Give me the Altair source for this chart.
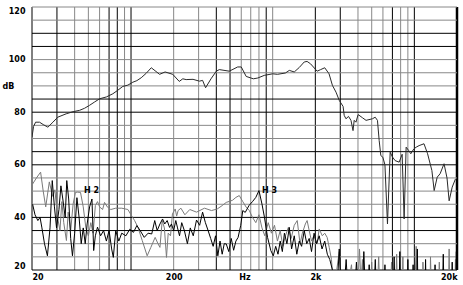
import altair as alt
import pandas as pd

# ---------------- data ----------------
main_freq = [20, 20.5, 21.2, 22.6, 24, 25.9, 28.1, 30.4, 34.9, 39, 43.3, 47, 50.9, 55, 60, 67, 74.4, 80,
             87.5, 95, 103, 110, 118, 128, 139, 150, 159, 174, 197, 219, 232, 245, 274, 304, 320, 336,
             367, 400, 420, 494, 566, 600, 650, 730, 785, 872, 1000, 1080, 1230, 1310, 1420, 1540,
             1670, 1750, 1850, 2060, 2180, 2330, 2500, 2640, 2800, 2950, 3140, 3197, 3290, 3430, 3570,
             3690, 3761, 3870, 4010, 4300, 4560, 5060, 5290, 5490, 5645, 5800, 5990, 6200, 6460, 6750,
             7000, 7310, 7810, 8200, 8470, 8750, 9100, 9440, 9900, 10300, 10800, 11700, 12400, 13300,
             13800, 14500, 15200, 16200, 17000, 17600, 18500, 19500]
main_db = [70.5, 74.5, 76.2, 76.2, 75.3, 74.3, 76.2, 78.1, 79.4, 80.2, 80.7, 81.5, 82.6, 83.8, 85.1, 85.8,
           87.0, 88.2, 89.8, 90.3, 91.4, 92.0, 93.1, 94.8, 96.9, 95.5, 94.4, 95.3, 94.4, 91.7, 92.7, 92.4,
           92.5, 91.8, 92.1, 89.3, 92.7, 95.6, 96.2, 95.6, 97.2, 97.2, 93.6, 92.7, 93.0, 94.0, 94.6, 94.4,
           94.9, 95.9, 95.3, 97.0, 99.1, 99.3, 98.4, 95.6, 96.2, 96.9, 94.6, 90.2, 87.6, 84.5, 82.2, 78.8,
           77.5, 78.4, 76.9, 73.0, 76.9, 76.2, 79.1, 77.9, 76.9, 77.5, 78.1, 76.9, 69.2, 63.5, 62.9, 60.0,
           37.5, 64.8, 63.0, 61.6, 61.0, 64.0, 39.4, 66.7, 65.5, 64.2, 66.0, 66.7, 67.3, 68.0, 64.2, 57.8,
           50.2, 55.3, 56.6, 60.4, 55.0, 46.3, 51.5, 54.6]

h2_freq = [20.2, 21.5, 23.0, 24.0, 25.0, 26.5, 28.0, 29.0, 30.3, 31.5, 32.5, 33.5, 35.0, 36.0, 37.5, 39.0,
           40.5, 42.0, 44.0, 46.0, 48.0, 50.0, 52.0, 54.0, 56.0, 58.0, 60.0, 63.0, 65.0, 68.0, 72.0, 78.0,
           86.0, 95.0, 100, 106, 112, 120, 130, 138, 148, 155, 160, 166, 172, 178, 183, 190, 196, 205,
           210, 215, 225, 240, 260, 290, 330, 370, 406, 440, 470, 520, 550, 581, 615, 650, 684, 720,
           760, 800, 840, 880, 930, 980, 1030, 1080, 1130, 1180, 1230, 1290, 1350, 1420, 1490, 1560,
           1620, 1700, 1750, 1810, 1880, 1950, 2060, 2130, 2240, 2330, 2424, 2506, 2600, 2700, 2950,
           3050, 3400, 3600, 3700, 4000, 4100, 4200, 4300, 4400, 4900, 5000, 5100, 5500, 5600, 5700,
           6800, 6900, 7000, 7400, 7500, 7600, 8200, 8300, 8400, 10100, 10300, 10500, 11400, 11500,
           11700, 12900, 13000, 13200, 14800, 15000, 15200, 17400, 17600, 17800, 19300, 19500, 19800]
h2_db = [52.7, 55.0, 57.2, 50.0, 44.0, 53.5, 48.0, 50.5, 40.0, 35.0, 46.0, 38.0, 31.2, 42.0, 35.0, 45.0,
         49.5, 49.6, 49.5, 44.0, 36.0, 33.0, 38.0, 34.0, 44.5, 46.0, 44.0, 43.0, 45.7, 44.0, 43.0, 43.5,
         43.5, 43.0, 41.0, 38.8, 36.2, 31.2, 25.4, 28.6, 32.4, 30.0, 28.6, 38.8, 36.0, 24.8, 34.0, 33.0,
         41.3, 43.2, 40.5, 42.6, 43.5, 41.0, 43.0, 42.0, 43.5, 42.6, 43.2, 44.5, 45.7, 46.5, 47.6, 48.3,
         46.0, 43.9, 42.6, 40.0, 38.0, 41.0, 36.0, 33.0, 38.0, 34.0, 37.0, 31.0, 35.0, 29.0, 33.0, 36.2,
         32.0, 37.0, 38.8, 30.0, 34.0, 37.5, 38.8, 35.0, 31.0, 33.0, 30.0, 35.6, 33.0, 34.0, 32.4, 28.6,
         24.0, 12.0, 27.0, 12.0, 14.0, 22.0, 12.0, 14.0, 28.0, 15.0, 24.0, 12.0, 13.0, 23.0, 12.0, 14.0,
         25.0, 13.0, 12.0, 23.0, 13.0, 14.0, 26.0, 12.0, 13.0, 25.0, 12.0, 13.0, 29.0, 12.0, 14.0, 23.0,
         12.0, 13.0, 25.0, 12.0, 13.0, 23.0, 12.0, 12.0, 28.0, 12.0, 13.0, 24.0, 12.0]

h3_freq = [20.2, 21.0, 22.0, 22.8, 23.5, 24.5, 25.7, 26.8, 27.8, 28.8, 29.8, 31.0, 32.0, 33.0, 34.3, 35.2,
           36.3, 37.5, 38.6, 40.0, 41.5, 43.0, 44.5, 46.0, 47.5, 49.0, 51.0, 53.0, 54.5, 56.0, 58.0, 61.0,
           64.0, 67.0, 70.0, 73.0, 75.0, 78.0, 82.0, 86.0, 92.0, 98.0, 104, 110, 116, 124, 132, 140, 147,
           153, 160, 167, 173, 180, 187, 193, 200, 207, 213, 220, 228, 238, 250, 262, 275, 290, 305, 320,
           335, 350, 365, 380, 395, 410, 425, 440, 455, 470, 490, 510, 530, 550, 570, 595, 615, 640, 680,
           720, 760, 800, 840, 875, 920, 970, 1010, 1050, 1090, 1130, 1170, 1210, 1260, 1310, 1360, 1420,
           1480, 1540, 1600, 1670, 1740, 1810, 1880, 1960, 2040, 2130, 2230, 2330, 2430, 2530, 2630, 2750,
           2850, 2950, 3050, 3200, 3300, 3400, 3800, 3900, 4000, 4300, 4400, 4500, 4700, 4800, 4900, 5200,
           5300, 5400, 6100, 6200, 6300, 7100, 7200, 7300, 7800, 7900, 8000, 8900, 9000, 9100, 9700, 9800,
           9900, 10400, 10500, 10600, 11900, 12000, 12100, 13900, 14000, 14100, 15800, 16000, 16200,
           18300, 18500, 18700, 19600, 19800, 19900]
h3_db = [45.0, 41.0, 38.8, 40.0, 36.0, 30.0, 25.4, 36.0, 54.0, 44.0, 36.0, 43.0, 52.0, 47.0, 40.0, 54.0,
         47.0, 32.0, 25.4, 34.0, 47.5, 40.0, 30.0, 36.0, 30.0, 37.5, 44.0, 47.0, 27.4, 33.0, 36.3, 33.0,
         35.0, 31.0, 35.0, 28.0, 24.8, 35.0, 31.0, 34.0, 33.0, 35.5, 34.3, 36.9, 35.0, 32.4, 34.0, 33.7,
         38.8, 35.0, 37.5, 39.4, 37.5, 38.8, 36.2, 37.5, 35.0, 38.8, 36.0, 33.0, 38.0, 35.0, 30.0, 36.0,
         33.0, 39.0, 37.0, 42.0, 38.0, 35.0, 32.0, 29.0, 33.0, 25.4, 31.0, 26.0, 30.0, 29.9, 27.0, 32.0,
         27.5, 31.0, 32.4, 37.0, 42.6, 41.9, 44.5, 46.0, 47.6, 50.2, 45.1, 40.0, 32.4, 27.4, 25.4, 29.0,
         26.0, 31.0, 27.0, 34.0, 30.0, 36.2, 28.0, 33.0, 26.0, 31.0, 29.0, 35.0, 30.0, 32.0, 27.0, 34.0,
         30.0, 33.0, 28.0, 31.0, 26.0, 24.0, 20.4, 15.0, 13.0, 28.0, 13.0, 14.0, 24.0, 12.0, 13.0, 23.0,
         13.0, 12.0, 27.0, 13.0, 13.0, 22.0, 12.0, 13.0, 24.0, 12.0, 13.0, 22.0, 12.0, 13.0, 25.0, 12.0,
         13.0, 27.0, 12.0, 13.0, 24.0, 13.0, 13.0, 22.0, 12.0, 13.0, 28.0, 12.0, 13.0, 24.0, 12.0, 13.0,
         22.0, 12.0, 13.0, 26.0, 12.0, 13.0, 23.0, 12.0, 13.0, 27.0, 13.0]

grid_freq = [20, 30, 40, 50, 60, 70, 80, 90, 100, 200, 300, 400, 500, 600, 700, 800, 900, 1000,
             2000, 3000, 4000, 5000, 6000, 7000, 8000, 9000, 10000, 20000]
grid_freq_color = ["#000", "#000", "#888", "#888", "#888", "#000", "#000", "#888", "#000",
                   "#888", "#888", "#000", "#000", "#888", "#888", "#888", "#000", "#888",
                   "#000", "#000", "#888", "#888", "#888", "#000", "#888", "#888", "#000", "#000"]
grid_freq_width = [1] * 27 + [2.5]

grid_db = [20, 25, 30, 35, 40, 45, 50, 55, 60, 65, 70, 75, 80, 85, 90, 95, 100, 105, 110, 115, 120]
grid_db_color = ["#000", "#888", "#888", "#000", "#000", "#888", "#888", "#888", "#000", "#000",
                 "#888", "#888", "#000", "#000", "#888", "#888", "#888", "#000", "#000", "#888", "#888"]

tick_freq = [20, 200, 2000, 20000]
tick_labels = ["20", "200", "2k", "20k"]
tick_db = [20, 40, 60, 80, 100, 120]

ann_freq = [52.6, 951]
ann_db = [50, 50]
ann_text = ["H 2", "H 3"]

# ---------------- chart ----------------
FONT = "DejaVu Sans"
xs = alt.Scale(type="log", domain=[20, 20000], nice=False)
ys = alt.Scale(domain=[20, 120], nice=False)

label_expr = " : ".join(f"datum.value == {v} ? '{t}'" for v, t in zip(tick_freq, tick_labels)) + " : ''"

x_axis = alt.Axis(values=tick_freq, labelExpr=label_expr, ticks=False, domain=False, grid=False,
                  labelFlush=True, labelFont=FONT, labelFontSize=8, labelFontWeight="bold",
                  labelColor="black", labelPadding=3, labelOverlap=False,
                  title="Hz", titleFont=FONT, titleFontSize=8, titleFontWeight="bold",
                  titleColor="black", titleY=3, titleBaseline="top")
y_axis = alt.Axis(values=tick_db, ticks=False, domain=False, grid=False, labelFlush=True,
                  labelFont=FONT, labelFontSize=8, labelFontWeight="bold", labelColor="black",
                  labelPadding=7, labelOverlap=False,
                  title="dB", titleFont=FONT, titleFontSize=8, titleFontWeight="bold",
                  titleColor="black", titleAngle=0, titleX=-30, titleY=79, titleAlign="left",
                  titleBaseline="middle")

vdf = pd.DataFrame({"f": grid_freq, "c": grid_freq_color, "w": grid_freq_width})
hdf = pd.DataFrame({"d": grid_db, "c": grid_db_color})

vr = alt.Chart(vdf).mark_rule().encode(
    x=alt.X("f:Q", scale=xs, axis=x_axis),
    color=alt.Color("c:N", scale=None),
    strokeWidth=alt.StrokeWidth("w:Q", scale=None),
)
hr = alt.Chart(hdf).mark_rule(strokeWidth=1).encode(
    y=alt.Y("d:Q", scale=ys, axis=y_axis),
    color=alt.Color("c:N", scale=None),
)


def curve(freq, db, color):
    df = pd.DataFrame({"f": freq, "d": db})
    return alt.Chart(df).mark_line(color=color, strokeWidth=1, clip=True).encode(
        x=alt.X("f:Q", scale=xs, axis=x_axis),
        y=alt.Y("d:Q", scale=ys, axis=y_axis),
    )


l_h2 = curve(h2_freq, h2_db, "#7a7a7a")
l_h3 = curve(h3_freq, h3_db, "#000000")
l_main = curve(main_freq, main_db, "#2a2a2a")

adf = pd.DataFrame({"f": ann_freq, "d": ann_db, "t": ann_text})
txt = alt.Chart(adf).mark_text(font=FONT, fontSize=8, fontWeight="bold", color="black",
                               align="center", baseline="middle").encode(
    x=alt.X("f:Q", scale=xs, axis=x_axis),
    y=alt.Y("d:Q", scale=ys, axis=y_axis),
    text="t:N",
)

chart = alt.layer(vr, hr, l_h2, l_h3, l_main, txt).properties(
    width=425, height=263,
    padding={"left": 32, "top": 7, "right": 6, "bottom": 15},
    autosize=alt.AutoSizeParams(type="none"),
    background="white",
).configure_view(stroke=None)

chart.save("out.html", embed_options={"renderer": "svg", "actions": False})
